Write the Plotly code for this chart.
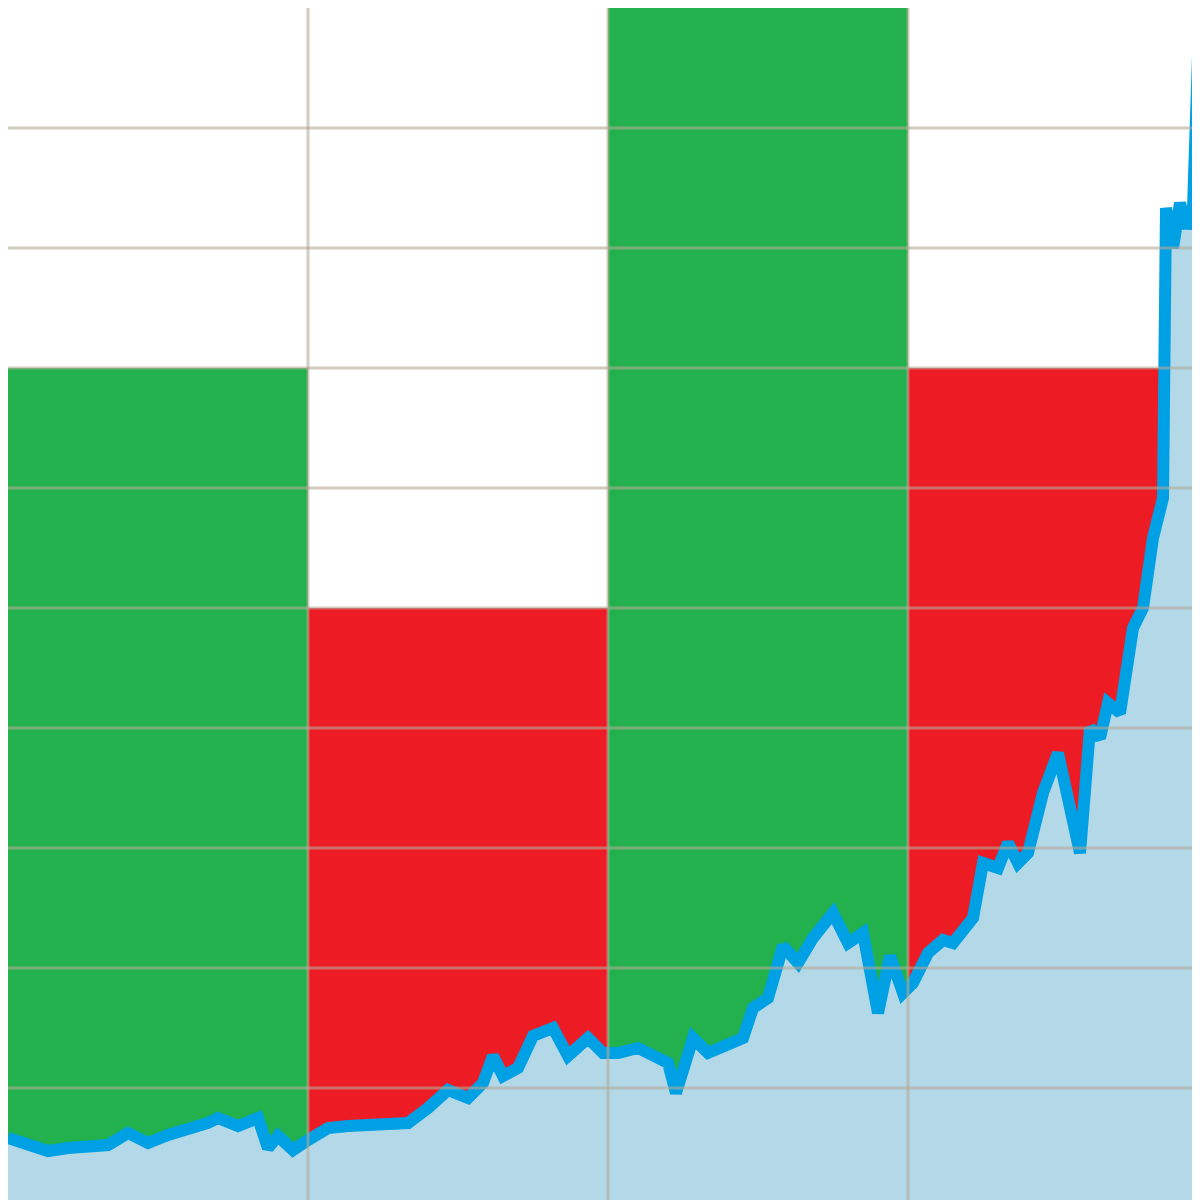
import plotly.graph_objects as go

columns = ["A", "B", "C", "D"]
filled_rows = [7, 5, 10, 7]
cell_colors = ["#23b14d", "#ed1c24", "#23b14d", "#ed1c24"]
total_rows = 10

t = [0,20,40,60,80,100,120,140,160,180,200,210,230,250,260,270,285,300,320,340,370,400,420,440,460,475,485,495,510,525,545,560,580,595,610,630,650,660,668,685,700,720,735,745,760,775,790,805,825,840,855,870,882,895,905,920,935,945,965,975,990,1000,1010,1020,1035,1050,1060,1072,1082,1092,1100,1112,1125,1135,1145,1155,1158,1165,1172,1178,1185,1190,1200]
py = [1130,1135,1143,1140,1137,1137,1125,1135,1127,1122,1115,1110,1118,1110,1140,1128,1142,1132,1120,1118,1115,1115,1100,1082,1090,1075,1048,1068,1060,1028,1020,1048,1030,1045,1045,1040,1050,1055,1085,1030,1045,1035,1030,1000,990,938,955,930,905,935,925,1005,948,985,975,945,932,935,910,855,860,835,855,845,785,745,785,845,720,730,695,705,620,600,530,490,200,240,195,220,200,48,60]
values = [(1200 - p) / 120 for p in py]

fig = go.Figure()
for i, c in enumerate(columns):
    fig.add_trace(go.Bar(x=[i], y=[filled_rows[i]], marker_color=cell_colors[i], width=1,
                         marker_line_width=0, showlegend=False))
fig.add_trace(go.Scatter(x=t, y=values, xaxis="x2", mode="lines", fill="tozeroy",
                         fillcolor="#b3d9e8", line=dict(color="#00a0e4", width=12),
                         showlegend=False))

shapes = []
for k in range(1, total_rows):
    shapes.append(dict(type="line", xref="paper", yref="y", x0=0, x1=1, y0=k, y1=k,
                       line=dict(color="rgba(180,170,150,0.6)", width=3), layer="above"))
for k in range(1, len(columns)):
    shapes.append(dict(type="line", xref="x", yref="paper", x0=k - 0.5, x1=k - 0.5, y0=0, y1=1,
                       line=dict(color="rgba(180,170,150,0.6)", width=3), layer="above"))

fig.update_layout(
    width=1200, height=1200, margin=dict(l=0, r=0, t=0, b=0),
    plot_bgcolor="white", paper_bgcolor="white", bargap=0,
    xaxis=dict(range=[-0.5, 3.5], visible=False),
    xaxis2=dict(range=[0, 1200], overlaying="x", visible=False),
    yaxis=dict(range=[0, 10], visible=False),
    shapes=shapes,
)
fig.write_html("out.html")
